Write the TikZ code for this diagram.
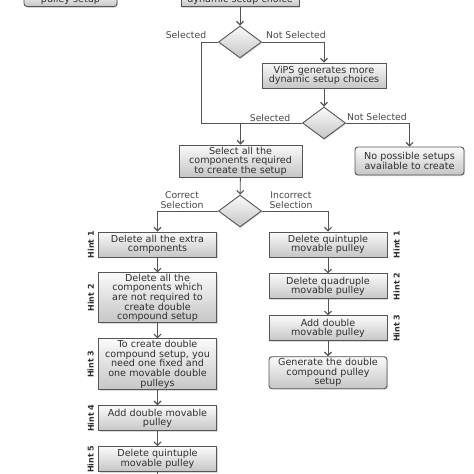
\documentclass[tikz,border=0pt]{standalone}
\usepackage{fontspec}
\setmainfont{DejaVu Sans}
\usepackage{xcolor}
\usepackage{tikz}
\usetikzlibrary{positioning,shapes.geometric,shadows,arrows.meta}
\definecolor{boxline}{HTML}{555555}
\definecolor{boxtext}{HTML}{2E2E2E}
\tikzset{step node/.style={rectangle,draw=boxline,line width=.9pt,top color=gray!4,bottom color=gray!45,drop shadow={shadow xshift=1pt,shadow yshift=-1pt,fill=gray!55},text=boxtext,font=\fontsize{9.6}{9.6}\selectfont,align=center,text width=112pt,inner xsep=3pt,inner ysep=1pt,minimum height=25pt},
end node/.style={step node,rounded corners=3pt},
choice node/.style={diamond,draw=boxline,line width=.9pt,top color=gray!4,bottom color=gray!45,drop shadow={shadow xshift=1pt,shadow yshift=-1pt,fill=gray!55},minimum width=43pt,minimum height=32pt,inner sep=0pt},
hint node/.style={rotate=90,text=boxtext,font=\bfseries\fontsize{8}{8}\selectfont,inner sep=1pt},
label node/.style={text=black!72,font=\fontsize{9.3}{9.6}\selectfont,align=center,inner sep=1pt},
>={Straight Barb[length=3.5pt,width=7pt,line width=1.1pt]},}

\begin{document}
\begin{tikzpicture}[x=1pt,y=-1pt]
    \fill[white] (0,0) rectangle (474,474);
    \useasboundingbox (0,0) rectangle (474,474);
    \clip (0,0) rectangle (474,474);

    % cut-off boxes at the top
    \node[end node,text width=87pt,minimum height=14pt,anchor=south] (pulley) at (70.5,7) {pulley setup};
    \node[step node,minimum height=14pt,anchor=south] (choice) at (240,7) {dynamic setup choice};

    % decisions and the upper boxes
    \node[choice node] (d1) at (240,42) {};
    \node[step node,text width=118pt] (vips) at (324,75.5) {ViPS generates more\\dynamic setup choices};
    \node[choice node] (d2) at (324,123) {};
    \node[end node,text width=103pt,minimum height=28pt] (none) at (409.5,161) {No possible setups\\available to create};
    \node[step node,text width=117pt,minimum height=32pt] (sel) at (240.5,161) {Select all the\\components required\\to create the setup};
    \node[choice node] (d3) at (240,211) {};

    % correct selection
    \node[step node] (l1) at (157.5,244.5) {Delete all the extra\\components};
    \node[step node,minimum height=50pt] (l2) [below = 15pt of l1] {Delete all the\\components which\\are not required to\\create double\\compound setup};
    \node[step node,minimum height=51pt] (l3) [below = 15pt of l2] {To create double\\compound setup, you\\need one fixed and\\one movable double\\pulleys};
    \node[step node] (l4) [below = 15pt of l3] {Add double movable\\pulley};
    \node[step node] (l5) [below = 15pt of l4] {Delete quintuple\\movable pulley};

    % incorrect selection
    \node[step node] (r1) at (328,244.5) {Delete quintuple\\movable pulley};
    \node[step node] (r2) [below = 16pt of r1] {Delete quadruple\\movable pulley};
    \node[step node] (r3) [below = 16pt of r2] {Add double\\movable pulley};
    \node[end node,minimum height=32pt] (r4) [below = 15pt of r3] {Generate the double\\compound pulley\\setup};

    % hints
    \node[hint node,anchor=south] (hl1) at ([xshift=-3pt]l1.west) {Hint 1};
    \node[hint node,anchor=south] (hl2) at ([xshift=-3pt]l2.west) {Hint 2};
    \node[hint node,anchor=south] (hl3) at ([xshift=-3pt]l3.west) {Hint 3};
    \node[hint node,anchor=south] (hl4) at ([xshift=-3pt]l4.west) {Hint 4};
    \node[hint node,anchor=south] (hl5) at ([xshift=-3pt]l5.west) {Hint 5};
    \node[hint node,anchor=north] (hr1) at ([xshift=5pt]r1.east) {Hint 1};
    \node[hint node,anchor=north] (hr2) at ([xshift=5pt]r2.east) {Hint 2};
    \node[hint node,anchor=north] (hr3) at ([xshift=5pt]r3.east) {Hint 3};

    % branch labels
    \node[label node] (sel1) at (186,35) {Selected};
    \node[label node] (not1) at (296,35) {Not Selected};
    \node[label node] (sel2) at (270,118) {Selected};
    \node[label node] (not2) at (377,117) {Not Selected};
    \node[label node] (corr) at (182,200) {Correct\\Selection};
    \node[label node] (incorr) at (291,200) {Incorrect\\Selection};

    \coordinate (j1) at (201,123);
    \coordinate (j2) at (sel.north |- d2.west);
    \coordinate (lend) at (157.5,485);

    \path[draw=boxline,line width=.9pt,->]
    (choice) edge node {} (d1)
    (vips) edge node {} (d2)
    (sel) edge node {} (d3)
    (l1) edge node {} (l2)
    (l2) edge node {} (l3)
    (l3) edge node {} (l4)
    (l4) edge node {} (l5)
    (r1) edge node {} (r2)
    (r2) edge node {} (r3)
    (r3) edge node {} (r4)
    ;
    \draw[draw=boxline,line width=.9pt,->] (j2) -- (sel.north);
    \draw[draw=boxline,line width=.9pt,->] (d1.east) -| (vips.north);
    \draw[draw=boxline,line width=.9pt,->] (d2.east) -| (none.north);
    \draw[draw=boxline,line width=.9pt,->] (d3.west) -| (l1.north);
    \draw[draw=boxline,line width=.9pt,->] (d3.east) -| (r1.north);
    \draw[draw=boxline,line width=.9pt] (d1.west) -| (j1) -- (d2.west);
    \draw[draw=boxline,line width=.9pt] (l5) -- (lend);
\end{tikzpicture}
\end{document}
